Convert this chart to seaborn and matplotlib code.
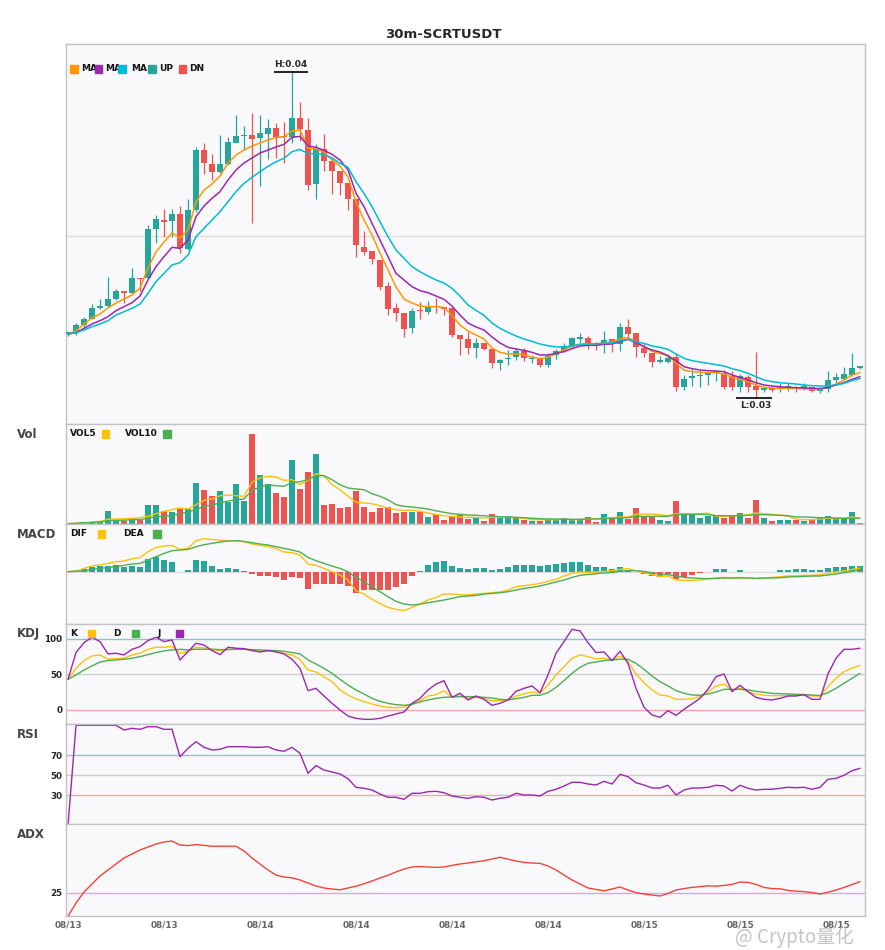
import numpy as np
import matplotlib
matplotlib.use("Agg")
import matplotlib.pyplot as plt
from matplotlib.patches import Rectangle
import seaborn as sns

# ---- data (100 candles) ----
open_ = [0.03207, 0.03208, 0.03232, 0.03252, 0.03284, 0.03290, 0.03310, 0.03336, 0.03330, 0.03374,
         0.03374, 0.03520, 0.03547, 0.03546, 0.03566, 0.03462, 0.03578, 0.03758, 0.03716, 0.03693,
         0.03716, 0.03780, 0.03800, 0.03802, 0.03794, 0.03806, 0.03824, 0.03798, 0.03798, 0.03854,
         0.03818, 0.03656, 0.03760, 0.03726, 0.03694, 0.03658, 0.03610, 0.03466, 0.03454, 0.03428,
         0.03350, 0.03284, 0.03268, 0.03224, 0.03277, 0.03272, 0.03288, 0.03288, 0.03284, 0.03204,
         0.03191, 0.03165, 0.03180, 0.03161, 0.03118, 0.03130, 0.03136, 0.03155, 0.03131, 0.03130,
         0.03113, 0.03143, 0.03156, 0.03170, 0.03192, 0.03193, 0.03171, 0.03177, 0.03190, 0.03175,
         0.03226, 0.03208, 0.03164, 0.03150, 0.03123, 0.03123, 0.03136, 0.03046, 0.03074, 0.03079,
         0.03082, 0.03088, 0.03090, 0.03080, 0.03046, 0.03078, 0.03050, 0.03039, 0.03040, 0.03040,
         0.03045, 0.03044, 0.03044, 0.03046, 0.03036, 0.03040, 0.03068, 0.03072, 0.03082, 0.03104]
high = [0.03213, 0.03238, 0.03258, 0.03296, 0.03310, 0.03376, 0.03340, 0.03336, 0.03403, 0.03374,
        0.03533, 0.03562, 0.03581, 0.03582, 0.03590, 0.03610, 0.03766, 0.03778, 0.03746, 0.03803,
        0.03798, 0.03864, 0.03830, 0.03868, 0.03863, 0.03851, 0.03838, 0.03843, 0.03992, 0.03902,
        0.03853, 0.03776, 0.03806, 0.03738, 0.03694, 0.03658, 0.03610, 0.03514, 0.03454, 0.03428,
        0.03362, 0.03298, 0.03268, 0.03284, 0.03302, 0.03304, 0.03314, 0.03288, 0.03284, 0.03204,
        0.03212, 0.03193, 0.03180, 0.03161, 0.03132, 0.03158, 0.03165, 0.03165, 0.03142, 0.03136,
        0.03148, 0.03160, 0.03180, 0.03198, 0.03208, 0.03200, 0.03181, 0.03216, 0.03190, 0.03238,
        0.03250, 0.03208, 0.03178, 0.03150, 0.03140, 0.03142, 0.03148, 0.03083, 0.03100, 0.03098,
        0.03090, 0.03098, 0.03098, 0.03096, 0.03086, 0.03083, 0.03153, 0.03046, 0.03046, 0.03058,
        0.03060, 0.03050, 0.03060, 0.03046, 0.03046, 0.03096, 0.03088, 0.03108, 0.03148, 0.03110]
low = [0.03200, 0.03203, 0.03228, 0.03250, 0.03280, 0.03288, 0.03308, 0.03298, 0.03328, 0.03336,
       0.03373, 0.03478, 0.03498, 0.03498, 0.03448, 0.03458, 0.03573, 0.03686, 0.03668, 0.03690,
       0.03714, 0.03778, 0.03758, 0.03538, 0.03650, 0.03730, 0.03733, 0.03720, 0.03778, 0.03785,
       0.03638, 0.03612, 0.03696, 0.03626, 0.03623, 0.03578, 0.03438, 0.03444, 0.03416, 0.03338,
       0.03264, 0.03244, 0.03198, 0.03210, 0.03252, 0.03266, 0.03270, 0.03264, 0.03198, 0.03144,
       0.03146, 0.03135, 0.03158, 0.03103, 0.03098, 0.03113, 0.03128, 0.03126, 0.03118, 0.03106,
       0.03108, 0.03130, 0.03152, 0.03168, 0.03178, 0.03162, 0.03159, 0.03148, 0.03153, 0.03156,
       0.03196, 0.03138, 0.03138, 0.03108, 0.03118, 0.03118, 0.03036, 0.03038, 0.03050, 0.03048,
       0.03052, 0.03064, 0.03040, 0.03038, 0.03033, 0.03033, 0.03014, 0.03032, 0.03032, 0.03033,
       0.03036, 0.03032, 0.03038, 0.03032, 0.03030, 0.03032, 0.03056, 0.03068, 0.03080, 0.03102]
close = [0.03209, 0.03232, 0.03252, 0.03284, 0.03290, 0.03310, 0.03336, 0.03330, 0.03374, 0.03370,
         0.03520, 0.03550, 0.03542, 0.03566, 0.03464, 0.03578, 0.03758, 0.03720, 0.03693, 0.03716,
         0.03782, 0.03800, 0.03802, 0.03792, 0.03810, 0.03824, 0.03798, 0.03796, 0.03854, 0.03820,
         0.03654, 0.03760, 0.03726, 0.03696, 0.03660, 0.03610, 0.03472, 0.03452, 0.03430, 0.03348,
         0.03282, 0.03270, 0.03222, 0.03274, 0.03275, 0.03288, 0.03286, 0.03282, 0.03202, 0.03192,
         0.03165, 0.03180, 0.03162, 0.03118, 0.03128, 0.03134, 0.03155, 0.03135, 0.03133, 0.03113,
         0.03140, 0.03155, 0.03170, 0.03193, 0.03193, 0.03180, 0.03169, 0.03188, 0.03180, 0.03226,
         0.03206, 0.03166, 0.03150, 0.03123, 0.03125, 0.03134, 0.03046, 0.03070, 0.03080, 0.03080,
         0.03088, 0.03096, 0.03046, 0.03046, 0.03080, 0.03048, 0.03038, 0.03040, 0.03039, 0.03046,
         0.03046, 0.03043, 0.03050, 0.03036, 0.03044, 0.03068, 0.03076, 0.03086, 0.03104, 0.03110]

ma5 = [0.03206, 0.03215, 0.03236, 0.03254, 0.03266, 0.03284, 0.03299, 0.03311, 0.03323, 0.03344,
       0.03404, 0.03452, 0.03482, 0.03509, 0.03494, 0.03518, 0.03602, 0.03638, 0.03656, 0.03680,
       0.03719, 0.03743, 0.03758, 0.03770, 0.03779, 0.03788, 0.03796, 0.03797, 0.03815, 0.03818,
       0.03764, 0.03761, 0.03752, 0.03728, 0.03710, 0.03677, 0.03602, 0.03548, 0.03503, 0.03449,
       0.03398, 0.03347, 0.03311, 0.03299, 0.03290, 0.03288, 0.03288, 0.03286, 0.03262, 0.03233,
       0.03215, 0.03203, 0.03191, 0.03164, 0.03151, 0.03146, 0.03146, 0.03143, 0.03137, 0.03132,
       0.03136, 0.03147, 0.03158, 0.03169, 0.03176, 0.03176, 0.03176, 0.03178, 0.03182, 0.03192,
       0.03195, 0.03183, 0.03168, 0.03154, 0.03147, 0.03143, 0.03118, 0.03098, 0.03093, 0.03091,
       0.03090, 0.03090, 0.03086, 0.03076, 0.03070, 0.03063, 0.03053, 0.03046, 0.03044, 0.03043,
       0.03043, 0.03043, 0.03042, 0.03040, 0.03040, 0.03046, 0.03056, 0.03068, 0.03083, 0.03090]
ma10 = [0.03206, 0.03210, 0.03223, 0.03236, 0.03246, 0.03258, 0.03276, 0.03288, 0.03300, 0.03320,
        0.03368, 0.03408, 0.03438, 0.03466, 0.03463, 0.03488, 0.03558, 0.03590, 0.03613, 0.03633,
        0.03668, 0.03698, 0.03719, 0.03734, 0.03749, 0.03758, 0.03767, 0.03775, 0.03796, 0.03799,
        0.03770, 0.03766, 0.03757, 0.03745, 0.03728, 0.03698, 0.03628, 0.03588, 0.03538, 0.03488,
        0.03438, 0.03388, 0.03368, 0.03348, 0.03336, 0.03330, 0.03320, 0.03310, 0.03290, 0.03263,
        0.03239, 0.03227, 0.03218, 0.03197, 0.03179, 0.03166, 0.03161, 0.03157, 0.03151, 0.03143,
        0.03143, 0.03148, 0.03153, 0.03162, 0.03170, 0.03172, 0.03172, 0.03175, 0.03176, 0.03183,
        0.03190, 0.03180, 0.03168, 0.03158, 0.03152, 0.03140, 0.03126, 0.03108, 0.03102, 0.03098,
        0.03096, 0.03095, 0.03093, 0.03083, 0.03076, 0.03068, 0.03060, 0.03053, 0.03050, 0.03048,
        0.03046, 0.03045, 0.03044, 0.03043, 0.03042, 0.03046, 0.03053, 0.03060, 0.03070, 0.03078]
ma20 = [0.03206, 0.03210, 0.03218, 0.03228, 0.03236, 0.03246, 0.03263, 0.03273, 0.03283, 0.03296,
        0.03328, 0.03363, 0.03388, 0.03413, 0.03420, 0.03443, 0.03498, 0.03523, 0.03548, 0.03573,
        0.03603, 0.03633, 0.03658, 0.03676, 0.03693, 0.03709, 0.03723, 0.03733, 0.03753, 0.03760,
        0.03747, 0.03747, 0.03744, 0.03734, 0.03718, 0.03706, 0.03663, 0.03628, 0.03588, 0.03543,
        0.03498, 0.03458, 0.03433, 0.03408, 0.03393, 0.03380, 0.03368, 0.03359, 0.03343, 0.03320,
        0.03293, 0.03277, 0.03262, 0.03239, 0.03223, 0.03211, 0.03200, 0.03191, 0.03184, 0.03176,
        0.03171, 0.03167, 0.03167, 0.03170, 0.03174, 0.03176, 0.03177, 0.03178, 0.03180, 0.03186,
        0.03190, 0.03183, 0.03178, 0.03170, 0.03166, 0.03160, 0.03146, 0.03133, 0.03126, 0.03122,
        0.03118, 0.03114, 0.03110, 0.03102, 0.03096, 0.03088, 0.03078, 0.03068, 0.03063, 0.03060,
        0.03058, 0.03056, 0.03053, 0.03051, 0.03050, 0.03050, 0.03053, 0.03058, 0.03066, 0.03072]

volume = [0.3, 1.3, 2.3, 2.3, 3.3, 13.3, 4.3, 3.3, 5.7, 4.3,
          19.3, 19.3, 13.3, 12.3, 15, 15, 41.3, 34.3, 28.3, 33.3,
          22, 40.3, 23.3, 90.3, 49.3, 40.3, 31.3, 27.3, 64.3, 35.3,
          52.3, 70.3, 19.3, 20.3, 16.3, 17.3, 33.3, 17.3, 12.3, 16.3,
          17.3, 11.3, 12.3, 12.3, 12.3, 7.3, 10.3, 4.3, 7.7, 9.3,
          5.3, 7, 3.3, 10.3, 6, 8.3, 6, 4.3, 3.3, 3.3,
          4.3, 3.7, 6, 3.7, 5.3, 7.3, 2.3, 10.3, 7.3, 12.3,
          5.3, 16.3, 8, 7.3, 4.3, 3.3, 23.3, 10.3, 9.3, 6.3,
          7.7, 7.7, 6.3, 9, 11.3, 6.3, 24.3, 6.3, 3.3, 4.3,
          4.3, 4.3, 3.3, 5.3, 7, 8.3, 5.3, 5.3, 12.3, 0.7]
vol5 = [0.3, 0.8, 1, 1.7, 2.7, 4.7, 5, 5.3, 5.7, 6.3,
        7.7, 10.3, 12.7, 14.3, 16, 15, 19.3, 23.7, 25, 28.3,
        29, 28.3, 27.7, 41.7, 46, 47.7, 47, 43.7, 44.3, 39.3,
        43.7, 50.3, 48.3, 39.3, 34.3, 27.7, 21.7, 21, 20.3, 18.3,
        16, 14.3, 13.7, 13.7, 12.7, 11, 9.5, 8.3, 7.7, 7,
        6.7, 6.7, 6, 6.7, 7, 6.7, 6.3, 5.7, 4.3, 4.3,
        4.3, 4.3, 5, 4.3, 4.3, 5.3, 5.3, 5.7, 6.3, 7,
        7, 9.7, 10, 10, 9.3, 8.3, 10, 10.3, 10, 10.3,
        11, 7.7, 7.7, 8.3, 8.7, 9, 11, 10.3, 9.7, 9,
        7.7, 5, 4.3, 4.3, 5, 5.7, 5.3, 5.7, 7, 6]
vol10 = [0.3, 0.8, 1.3, 1.6, 2, 3.3, 3.6, 3.8, 4.3, 4.5,
         5.7, 7.3, 7.7, 8.7, 10, 12, 14.3, 17.7, 19, 21,
         23, 24.3, 25, 33.7, 37, 39, 38.3, 37.7, 41.7, 42.3,
         44.3, 48.3, 48.3, 44.3, 39.3, 36, 35, 34.3, 30.3, 27.7,
         24.3, 19.3, 17.7, 17, 16, 15, 13.2, 11.7, 10.3, 9.7,
         9, 8.7, 8.3, 7.7, 7.3, 7, 6.7, 6.3, 5.7, 5.3,
         5, 5, 4.7, 4.7, 4.7, 5, 5, 5.3, 5.7, 6,
         6.3, 7.7, 7.7, 7.7, 7.7, 7.7, 9.3, 9.7, 9.7, 9.7,
         9.3, 8.3, 8.3, 8.3, 8.3, 8.7, 9.3, 9.3, 9, 8.7,
         8.3, 7, 7, 6.7, 6.3, 6.3, 6, 5.7, 5.7, 5.7]

macd_hist = [0, 0.3, 2.3, 5, 5.7, 5.7, 6.7, 5, 5.7, 5,
             13, 15, 11.7, 9.7, -0.7, 1.7, 11.7, 11, 5.7, 2.7,
             3.7, 2.7, 0.3, -2.3, -4, -4, -5.7, -8.3, -5, -6.3,
             -17, -12.7, -12.3, -12.3, -12.3, -14.3, -21, -18.3, -18.3, -18.3,
             -18.3, -15, -12.3, -4.3, 1, 6.3, 9.8, 11, 5.7, 4,
             2.7, 3.7, 3.7, 1.3, 2.7, 4.7, 6.7, 6.7, 6.7, 5.7,
             6.7, 7.7, 8.7, 9.7, 9.7, 6.7, 4.7, 4.7, 2.7, 4.7,
             1.7, 0, -2.3, -4.3, -5, -2.3, -7, -5.7, -3.3, -1.3,
             0, 2.3, 2.3, 0, 1.3, 0, -0.7, -0.7, 0, 1.3,
             1.3, 2.3, 2.3, 1.3, 1.3, 3.3, 4.7, 4.7, 5.7, 5.7]
dif = [0, 0.7, 3.3, 5.7, 6.7, 8.3, 10, 10.7, 13, 14,
       20, 24.3, 25.7, 26.3, 22.3, 23.3, 31, 33, 32.3, 31.7,
       31, 31, 30, 27.7, 26.3, 25, 23.3, 19.7, 19, 16.7,
       7.7, 6.3, 3.3, 0, -3.3, -8.3, -19, -22.3, -27.7, -31.7,
       -35.7, -37.7, -39, -35.7, -32.3, -28.3, -25.7, -22.3, -22.3, -23,
       -23.3, -22.3, -21.7, -21, -20.3, -18.3, -15, -14, -13, -11.7,
       -9.7, -7.7, -4.3, -1.7, -0.3, -0.7, -0.3, 0.3, 1, 2.3,
       3, 1, -1, -3, -4.7, -4.3, -8.3, -8.7, -8.7, -8.3,
       -7, -6.3, -5.7, -6.3, -5.7, -6.3, -6.7, -6.3, -5.7, -5,
       -4.3, -4, -3.7, -3.7, -3, -1.7, -0.3, 0.7, 2.3, 3.7]
dea = [0, 0.5, 1, 2.2, 3.3, 4.2, 5, 6.3, 7.7, 8.3,
       11.7, 15, 18.3, 21, 21.7, 22.3, 25, 27, 28.3, 29.7,
       30.7, 31, 30.3, 29, 27.7, 26.7, 25, 23.3, 21.7, 19.7,
       14.3, 11, 8.3, 5.7, 3.3, 0, -5.7, -10, -15, -20,
       -25, -29.7, -32.3, -33.3, -32.5, -31, -29.7, -28.3, -26.7, -25,
       -24.3, -23.7, -22.3, -21.7, -21, -20, -18.3, -16.7, -15.7, -14.3,
       -12.3, -10.3, -8.3, -5.7, -3.7, -2.7, -2, -1.3, -0.7, 0.3,
       1, 1, 0.3, -1, -2.3, -3, -4.3, -5.7, -6.3, -6.7,
       -7, -6.7, -6.3, -6.3, -6.3, -6.3, -6.7, -6.3, -6.3, -6,
       -5.3, -5, -4.7, -4.3, -4.3, -3.3, -2.3, -1, 0.3, 2.3]

k_line = [43.2, 58.7, 69.5, 76, 77.5, 71.4, 72.3, 72.8, 77.5, 79.8,
          85.4, 88.3, 88.3, 89.7, 79.8, 82.6, 88.3, 87.3, 85.4, 83.1,
          85.4, 85.4, 85.4, 83.6, 82.2, 83.1, 82.2, 79.8, 77.5, 71.4,
          56.3, 53.5, 46.9, 39.9, 28.2, 21.1, 15.5, 11.7, 8.5, 5.6,
          3.8, 3.3, 3.8, 8.5, 13.1, 19.7, 21.5, 27.2, 17.8, 19.7,
          16.4, 17.8, 16.4, 12.7, 13.1, 15, 19.7, 22.5, 25.4, 23.5,
          35.2, 49.3, 61, 72.8, 77.5, 75.1, 71.8, 72.8, 70.4, 76,
          68.1, 50.7, 38.5, 28.2, 21.1, 19.7, 15, 15, 16, 18.8,
          25.4, 33.8, 36.6, 27.2, 30.5, 25.8, 22.5, 20.7, 20.2, 20.2,
          20.7, 20.7, 21.6, 19.7, 19.7, 32.9, 44.6, 54, 58.7, 62.9]
d_line = [43.2, 49.3, 56.3, 62, 67.6, 69.5, 70.4, 71.4, 72.8, 75.1,
          77.9, 80.8, 83.1, 84.5, 85.4, 84.5, 85.4, 85.4, 85.4, 85,
          85, 85.4, 85.4, 85, 84.5, 84, 83.6, 82.6, 80.8, 78.9,
          70.4, 64.8, 58.7, 51.6, 43.2, 35.2, 28.2, 22.5, 16.4, 12.2,
          9.4, 7.5, 6.6, 8, 11.3, 14.1, 16.4, 17.8, 18.3, 18.8,
          18.8, 18.8, 17.8, 16.9, 15, 14.1, 16, 17.8, 20.7, 20.7,
          24.4, 31.9, 41.3, 51.6, 60.1, 65.7, 67.6, 69.5, 70.4, 71.4,
          71.4, 65.7, 57.3, 47.9, 39.9, 33.8, 27.2, 23.5, 21.1, 20.7,
          22.5, 25.4, 29.1, 29.1, 29.1, 28.2, 26.3, 24.9, 23.5, 23,
          22.5, 22.1, 21.6, 21.1, 20.2, 24.4, 30.5, 37.6, 44.6, 51.6]
j_line = [43.2, 80.8, 94.8, 102.3, 96.2, 78.9, 79.8, 77.5, 85.4, 89.2,
          97.7, 102.3, 96.2, 98.6, 70.4, 82.2, 93.9, 91.5, 83.6, 77.9,
          88.3, 86.9, 86.4, 83.6, 81.7, 83.6, 81.7, 78.9, 71.4, 58.7,
          27.2, 30.5, 19.7, 9.4, 0, -8.5, -11.7, -13.1, -13.1, -11.7,
          -8.5, -5.6, -2.8, 9.4, 16.4, 28.2, 36.5, 41.3, 17.8, 23.5,
          14.1, 19.7, 15, 6.6, 9.4, 14.1, 26.3, 30.5, 33.8, 24.4,
          49.3, 79.8, 96.2, 113.6, 111.3, 94.8, 80.8, 81.7, 69.5, 82.6,
          65.7, 30.5, 3.8, -7, -10.3, -0.9, -7.5, 0.9, 8.5, 16.4,
          29.1, 46.9, 50.7, 25.8, 34.7, 25.8, 17.8, 15, 14.1, 16.4,
          19.7, 19.7, 21.6, 15, 15, 50.7, 72.8, 85.4, 85.4, 86.9]

rsi = [0, 100, 100, 100, 100, 100, 100, 95.3, 97, 96,
       98.6, 98.6, 96, 96, 68.6, 77, 83.6, 78, 75.3, 76,
       78.6, 78.6, 78.6, 78, 78, 78.6, 75.3, 74, 78, 72,
       52, 59.7, 55.3, 53.3, 51.3, 46.6, 38, 37, 35.3, 31.3,
       28, 28, 26, 32, 32, 33.6, 34, 32.6, 29.3, 28,
       27, 28.6, 28, 25.3, 27, 28, 32, 30.3, 30.3, 29.3,
       34, 36, 39.3, 43, 43, 41.3, 40.3, 44, 41.3, 51,
       48.6, 42.6, 40.3, 37.3, 37.3, 40, 30.3, 35.3, 37.3, 37.3,
       38, 40, 39.3, 34.3, 40, 37, 35.3, 36, 36, 37,
       38, 37.6, 38, 36, 38, 46, 47, 50, 54.6, 57]

adx = [13.4, 20, 25.5, 29.5, 33.5, 36.5, 39.5, 42.5, 44.5, 46.5,
       48, 49.5, 50.5, 51, 49, 48.7, 49.2, 48.8, 48.4, 48.4,
       48.4, 48.4, 46, 42.5, 39.5, 36.5, 34, 33, 32.6, 31.5,
       30, 28.5, 27.5, 27, 26.6, 27.5, 28.4, 29.6, 31, 32.5,
       33.9, 35.5, 37, 38, 38.2, 38, 37.8, 38, 38.8, 39.5,
       40, 40.6, 41.1, 42, 42.9, 41.9, 41, 40.3, 40, 39.8,
       38.5, 36.5, 34, 31.5, 29.5, 27.5, 26.8, 26.1, 27, 28,
       26.5, 25.2, 24.5, 24, 23.5, 24.8, 26.5, 27.2, 27.8, 28.2,
       28.6, 28.4, 28.8, 29.3, 30.5, 30.3, 29.3, 27.8, 27.2, 27.1,
       26.3, 25.9, 25.7, 25.2, 24.5, 25.4, 26.5, 27.8, 29.2, 30.7]

tick_pos = [0, 12, 24, 36, 48, 60, 72, 84, 96]
tick_labels = ["08/13", "08/13", "08/14", "08/14", "08/14", "08/14", "08/15", "08/15", "08/15"]

# ---- style ----
UP, DN = "#26a69a", "#ef5350"
ORANGE, PURPLE, CYAN = "#ff9800", "#9c27b0", "#00bcd4"
YEL, GRN = "#ffc107", "#4caf50"
BG = "#f9f9fb"

sns.set_style("white")
plt.rcParams['font.family'] = ['DejaVu Sans', 'Noto Sans CJK SC']

W, H = 885, 950
fig = plt.figure(figsize=(W / 100, H / 100), dpi=100)
x = np.arange(len(close))


def panel(top, bottom):
    ax = fig.add_axes([66 / W, 1 - bottom / H, 799 / W, (bottom - top) / H])
    ax.set_facecolor(BG)
    for s in ax.spines.values():
        s.set_color("#c2c2c2")
        s.set_linewidth(1)
    ax.set_xticks([])
    ax.set_yticks([])
    return ax


def ftext(px, py, s, **kw):
    fig.text(px / W, 1 - py / H, s, **kw)


def fsquare(px, py, color, size=7.5):
    fig.add_artist(Rectangle((px / W, 1 - (py + size) / H), size / W, size / H,
                             transform=fig.transFigure, color=color, zorder=5))


o, c, hi, lo = map(np.array, (open_, close, high, low))
is_up = c >= o
cols = np.where(is_up, UP, DN)

# ---- price panel ----
ax = panel(44, 424)
ax.axhline(0.035, color="#dedede", lw=1, zorder=0)
ax.vlines(x, lo, hi, colors=cols, lw=0.9, zorder=2)
ax.bar(x, np.maximum(np.abs(c - o), 0.00004), bottom=np.minimum(o, c),
       width=0.75, color=cols, linewidth=0, zorder=3)
for series, col in ((ma5, ORANGE), (ma10, PURPLE), (ma20, CYAN)):
    sns.lineplot(x=x, y=series, ax=ax, color=col, linewidth=1.1, zorder=4)
ih, il = int(np.argmax(hi)), int(np.argmin(lo))
ax.hlines(hi[ih], ih - 2.3, ih + 2.0, color="black", lw=1.2, zorder=5)
ax.annotate(f"H:{hi[ih]:.2f}", (ih - 0.2, hi[ih]), xytext=(0, 2), textcoords="offset points",
            ha="center", va="bottom", fontsize=6.5, fontweight="bold")
ax.hlines(lo[il], il - 2.5, il + 2.0, color="black", lw=1.2, zorder=5)
ax.annotate(f"L:{lo[il]:.2f}", (il, lo[il]), xytext=(0, -2.5), textcoords="offset points",
            ha="center", va="top", fontsize=6.5, fontweight="bold")
ax.set_ylim(0.02936, 0.04076)

# ---- volume panel ----
axv = panel(424, 524)
axv.bar(x, volume, width=0.75, color=cols, linewidth=0, zorder=2)
sns.lineplot(x=x, y=vol5, ax=axv, color=YEL, linewidth=1.0, zorder=3)
sns.lineplot(x=x, y=vol10, ax=axv, color=GRN, linewidth=1.0, zorder=3)
axv.set_ylim(0, 100)

# ---- MACD panel ----
axm = panel(524, 624)
axm.axhline(0, color="#dcdcdc", lw=1, zorder=0)
hist = np.array(macd_hist)
axm.bar(x, hist, width=0.75, color=np.where(hist >= 0, UP, DN), linewidth=0, zorder=2)
sns.lineplot(x=x, y=dif, ax=axm, color=YEL, linewidth=1.0, zorder=3)
sns.lineplot(x=x, y=dea, ax=axm, color=GRN, linewidth=1.0, zorder=3)
axm.set_ylim(-52.3, 47.7)

# ---- KDJ panel ----
axk = panel(624, 724)
for lv, lc in ((100, "#80cbc4"), (50, "#cfcfcf"), (0, "#f4a7a7")):
    axk.axhline(lv, color=lc, lw=1, zorder=0)
sns.lineplot(x=x, y=k_line, ax=axk, color=YEL, linewidth=1.0)
sns.lineplot(x=x, y=d_line, ax=axk, color=GRN, linewidth=1.0)
sns.lineplot(x=x, y=j_line, ax=axk, color=PURPLE, linewidth=1.0)
axk.set_ylim(-19.7, 121)
axk.set_yticks([0, 50, 100])

# ---- RSI panel ----
axr = panel(724, 824)
for lv, lc in ((70, "#80cbc4"), (50, "#cfcfcf"), (30, "#f4a7a7")):
    axr.axhline(lv, color=lc, lw=1, zorder=0)
sns.lineplot(x=x, y=rsi, ax=axr, color=PURPLE, linewidth=1.0)
axr.set_ylim(1.3, 101.3)
axr.set_yticks([30, 50, 70])

# ---- ADX panel ----
axa = panel(824, 916)
axa.axhline(25, color="#d8a8e0", lw=1, zorder=0)
sns.lineplot(x=x, y=adx, ax=axa, color="#f44336", linewidth=1.0)
axa.set_ylim(13.5, 59.5)
axa.set_yticks([25])
axa.set_xticks(tick_pos)
axa.set_xticklabels(tick_labels)
axa.tick_params(axis="x", length=0, pad=3, labelsize=6.4, labelcolor="#666666")
for t in axa.get_xticklabels():
    t.set_fontweight("bold")

for a in (ax, axv, axm, axk, axr, axa):
    a.set_xlim(-0.25, 99.625)
    a.set_xlabel("")
    a.set_ylabel("")
for a in (axk, axr, axa):
    a.tick_params(axis="y", length=0, pad=2.5, labelsize=6.3)
    for t in a.get_yticklabels():
        t.set_fontweight("bold")
ax.set_yticks([])

# ---- texts / legends ----
ftext(443, 34, "30m-SCRTUSDT", ha="center", va="center", fontsize=9.5, fontweight="bold")
lab = dict(fontsize=8.5, fontweight="bold", color="#444444", va="center", ha="left")
for name, py in (("Vol", 434.5), ("MACD", 535), ("KDJ", 634), ("RSI", 734.5), ("ADX", 834.5)):
    ftext(17, py, name, **lab)

leg = dict(fontsize=6.5, fontweight="bold", color="#111111", va="center", ha="left", zorder=3)
for tx, label in ((81, "MA"), (105, "MA"), (131, "MA"), (159, "UP"), (189, "DN")):
    ftext(tx, 68.7, label, **leg)
for sx, col in ((70, ORANGE), (94.5, PURPLE), (118, CYAN), (148, UP), (178.5, DN)):
    fsquare(sx, 65, col)

ftext(70, 434, "VOL5", **leg)
fsquare(101.5, 430, YEL)
ftext(125, 434, "VOL10", **leg)
fsquare(163, 430, GRN)

ftext(70, 534, "DIF", **leg)
fsquare(97.5, 530, YEL)
ftext(123, 534, "DEA", **leg)
fsquare(153, 530, GRN)

ftext(70, 634, "K", **leg)
fsquare(87.5, 629.5, YEL)
ftext(113, 634, "D", **leg)
fsquare(131.5, 629.5, GRN)
ftext(157, 634, "J", **leg)
fsquare(175.5, 629.5, PURPLE)

# watermark, kept just under the date labels
ftext(735, 938, "@ Crypto量化", fontsize=13.5, color="#c4c4c4", va="center", ha="left",
      family=["Noto Sans CJK SC", "DejaVu Sans"], zorder=6)

fig.savefig("out.png", dpi=100)
